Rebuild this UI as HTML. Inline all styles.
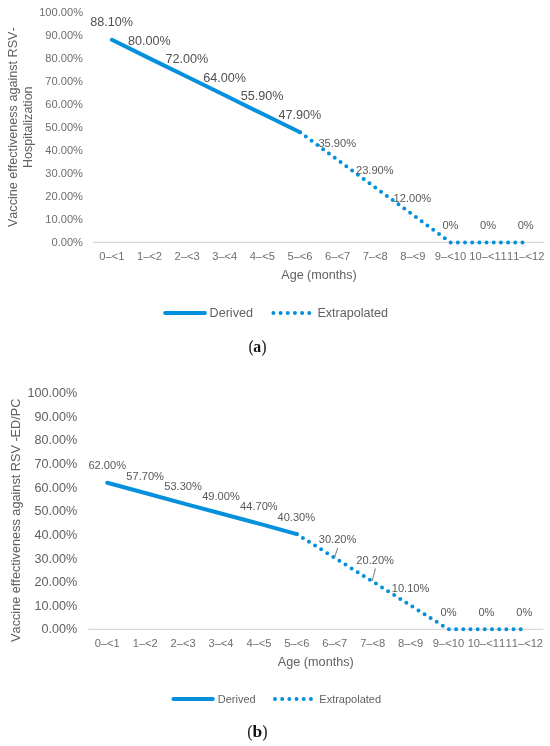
<!DOCTYPE html>
<html><head><meta charset="utf-8"><title>Figure</title>
<style>
html,body{margin:0;padding:0;background:#fff;}
svg{display:block;font-family:"Liberation Sans","DejaVu Sans",sans-serif;font-kerning:none;}
</style></head>
<body>
<svg width="550" height="746" viewBox="0 0 550 746">
<rect width="550" height="746" fill="#ffffff"/>
<g id="chart-a">
<text x="83" y="246.40" font-size="11.1" fill="#6e6e6e" text-anchor="end">0.00%</text>
<text x="83" y="223.40" font-size="11.1" fill="#6e6e6e" text-anchor="end">10.00%</text>
<text x="83" y="200.40" font-size="11.1" fill="#6e6e6e" text-anchor="end">20.00%</text>
<text x="83" y="177.40" font-size="11.1" fill="#6e6e6e" text-anchor="end">30.00%</text>
<text x="83" y="154.40" font-size="11.1" fill="#6e6e6e" text-anchor="end">40.00%</text>
<text x="83" y="131.40" font-size="11.1" fill="#6e6e6e" text-anchor="end">50.00%</text>
<text x="83" y="108.40" font-size="11.1" fill="#6e6e6e" text-anchor="end">60.00%</text>
<text x="83" y="85.40" font-size="11.1" fill="#6e6e6e" text-anchor="end">70.00%</text>
<text x="83" y="62.40" font-size="11.1" fill="#6e6e6e" text-anchor="end">80.00%</text>
<text x="83" y="39.40" font-size="11.1" fill="#6e6e6e" text-anchor="end">90.00%</text>
<text x="83" y="16.40" font-size="11.1" fill="#6e6e6e" text-anchor="end">100.00%</text>
<line x1="93.1" y1="242.4" x2="544.5" y2="242.4" stroke="#d9d9d9" stroke-width="1.2"/>
<text x="111.91" y="259.7" font-size="11.15" fill="#6e6e6e" text-anchor="middle">0–&lt;1</text>
<text x="149.52" y="259.7" font-size="11.15" fill="#6e6e6e" text-anchor="middle">1–&lt;2</text>
<text x="187.14" y="259.7" font-size="11.15" fill="#6e6e6e" text-anchor="middle">2–&lt;3</text>
<text x="224.76" y="259.7" font-size="11.15" fill="#6e6e6e" text-anchor="middle">3–&lt;4</text>
<text x="262.38" y="259.7" font-size="11.15" fill="#6e6e6e" text-anchor="middle">4–&lt;5</text>
<text x="299.99" y="259.7" font-size="11.15" fill="#6e6e6e" text-anchor="middle">5–&lt;6</text>
<text x="337.61" y="259.7" font-size="11.15" fill="#6e6e6e" text-anchor="middle">6–&lt;7</text>
<text x="375.23" y="259.7" font-size="11.15" fill="#6e6e6e" text-anchor="middle">7–&lt;8</text>
<text x="412.84" y="259.7" font-size="11.15" fill="#6e6e6e" text-anchor="middle">8–&lt;9</text>
<text x="450.46" y="259.7" font-size="11.15" fill="#6e6e6e" text-anchor="middle">9–&lt;10</text>
<text x="488.08" y="259.7" font-size="11.15" fill="#6e6e6e" text-anchor="middle">10–&lt;11</text>
<text x="525.69" y="259.7" font-size="11.15" fill="#6e6e6e" text-anchor="middle">11–&lt;12</text>
<path d="M299.99 132.23 L337.61 159.83 L375.23 187.43 L412.84 214.80 L450.46 242.40 L488.08 242.40 L525.69 242.40" fill="none" stroke="#0590dc" stroke-width="4.0" stroke-linecap="round" stroke-linejoin="round" stroke-dasharray="0 7.18"/>
<path d="M111.91 39.77 L149.52 58.40 L187.14 76.80 L224.76 95.20 L262.38 113.83 L299.99 132.23" fill="none" stroke="#0590dc" stroke-width="4.0" stroke-linecap="round" stroke-linejoin="round"/>
<text x="111.71" y="26.31" font-size="12.6" fill="#505050" text-anchor="middle">88.10%</text>
<text x="149.32" y="44.94" font-size="12.6" fill="#505050" text-anchor="middle">80.00%</text>
<text x="186.94" y="63.34" font-size="12.6" fill="#505050" text-anchor="middle">72.00%</text>
<text x="224.56" y="81.74" font-size="12.6" fill="#505050" text-anchor="middle">64.00%</text>
<text x="262.18" y="100.37" font-size="12.6" fill="#505050" text-anchor="middle">55.90%</text>
<text x="299.79" y="118.77" font-size="12.6" fill="#505050" text-anchor="middle">47.90%</text>
<text x="337.21" y="146.63" font-size="11.1" fill="#585858" text-anchor="middle">35.90%</text>
<text x="374.83" y="174.23" font-size="11.1" fill="#585858" text-anchor="middle">23.90%</text>
<text x="412.44" y="201.60" font-size="11.1" fill="#585858" text-anchor="middle">12.00%</text>
<text x="450.46" y="229.40" font-size="11.1" fill="#585858" text-anchor="middle">0%</text>
<text x="488.08" y="229.40" font-size="11.1" fill="#585858" text-anchor="middle">0%</text>
<text x="525.69" y="229.40" font-size="11.1" fill="#585858" text-anchor="middle">0%</text>
<text transform="translate(17 127.2) rotate(-90)" font-size="12.62" fill="#616161" text-anchor="middle">Vaccine effectiveness against RSV-</text>
<text transform="translate(32.4 127.2) rotate(-90)" font-size="12.55" fill="#616161" text-anchor="middle">Hospitalization</text>
<text x="319" y="278.6" font-size="12.58" fill="#616161" text-anchor="middle">Age (months)</text>
<line x1="165.1" y1="312.9" x2="204.9" y2="312.9" stroke="#0590dc" stroke-width="4.0" stroke-linecap="round"/>
<text x="209.6" y="317.43" font-size="12.58" fill="#616161">Derived</text>
<line x1="273.4" y1="312.9" x2="311" y2="312.9" stroke="#0590dc" stroke-width="4.0" stroke-linecap="round" stroke-dasharray="0 7.18"/>
<text x="317.4" y="317.43" font-size="12.58" fill="#616161">Extrapolated</text>
<g fill="#111" font-family="'Liberation Serif', 'DejaVu Serif', serif">
<text transform="translate(248.7 351.8) scale(0.86 1)" font-size="16.0" stroke="#111" stroke-width="0.25">(</text>
<text transform="translate(253.2 351.8) scale(1.0 1)" font-size="15.8" font-weight="bold">a</text>
<text transform="translate(261.8 351.8) scale(0.86 1)" font-size="16.0" stroke="#111" stroke-width="0.25">)</text>
</g>
</g>
<g id="chart-b">
<text x="77.2" y="633.49" font-size="12.6" fill="#616161" text-anchor="end">0.00%</text>
<text x="77.2" y="609.86" font-size="12.6" fill="#616161" text-anchor="end">10.00%</text>
<text x="77.2" y="586.23" font-size="12.6" fill="#616161" text-anchor="end">20.00%</text>
<text x="77.2" y="562.60" font-size="12.6" fill="#616161" text-anchor="end">30.00%</text>
<text x="77.2" y="538.97" font-size="12.6" fill="#616161" text-anchor="end">40.00%</text>
<text x="77.2" y="515.34" font-size="12.6" fill="#616161" text-anchor="end">50.00%</text>
<text x="77.2" y="491.71" font-size="12.6" fill="#616161" text-anchor="end">60.00%</text>
<text x="77.2" y="468.08" font-size="12.6" fill="#616161" text-anchor="end">70.00%</text>
<text x="77.2" y="444.45" font-size="12.6" fill="#616161" text-anchor="end">80.00%</text>
<text x="77.2" y="420.82" font-size="12.6" fill="#616161" text-anchor="end">90.00%</text>
<text x="77.2" y="397.19" font-size="12.6" fill="#616161" text-anchor="end">100.00%</text>
<line x1="88.3" y1="629.3" x2="543.3" y2="629.3" stroke="#d9d9d9" stroke-width="1.2"/>
<text x="107.26" y="646.6" font-size="11.15" fill="#6e6e6e" text-anchor="middle">0–&lt;1</text>
<text x="145.18" y="646.6" font-size="11.15" fill="#6e6e6e" text-anchor="middle">1–&lt;2</text>
<text x="183.09" y="646.6" font-size="11.15" fill="#6e6e6e" text-anchor="middle">2–&lt;3</text>
<text x="221.01" y="646.6" font-size="11.15" fill="#6e6e6e" text-anchor="middle">3–&lt;4</text>
<text x="258.93" y="646.6" font-size="11.15" fill="#6e6e6e" text-anchor="middle">4–&lt;5</text>
<text x="296.84" y="646.6" font-size="11.15" fill="#6e6e6e" text-anchor="middle">5–&lt;6</text>
<text x="334.76" y="646.6" font-size="11.15" fill="#6e6e6e" text-anchor="middle">6–&lt;7</text>
<text x="372.68" y="646.6" font-size="11.15" fill="#6e6e6e" text-anchor="middle">7–&lt;8</text>
<text x="410.59" y="646.6" font-size="11.15" fill="#6e6e6e" text-anchor="middle">8–&lt;9</text>
<text x="448.51" y="646.6" font-size="11.15" fill="#6e6e6e" text-anchor="middle">9–&lt;10</text>
<text x="486.43" y="646.6" font-size="11.15" fill="#6e6e6e" text-anchor="middle">10–&lt;11</text>
<text x="524.34" y="646.6" font-size="11.15" fill="#6e6e6e" text-anchor="middle">11–&lt;12</text>
<path d="M296.84 534.07 L334.76 557.94 L372.68 581.57 L410.59 605.43 L448.51 629.30 L486.43 629.30 L524.34 629.30" fill="none" stroke="#0590dc" stroke-width="4.0" stroke-linecap="round" stroke-linejoin="round" stroke-dasharray="0 7.18"/>
<path d="M107.26 482.79 L145.18 492.95 L183.09 503.35 L221.01 513.51 L258.93 523.67 L296.84 534.07" fill="none" stroke="#0590dc" stroke-width="4.0" stroke-linecap="round" stroke-linejoin="round"/>
<text x="107.26" y="469.49" font-size="11.1" fill="#585858" text-anchor="middle">62.00%</text>
<text x="145.18" y="479.65" font-size="11.1" fill="#585858" text-anchor="middle">57.70%</text>
<text x="183.09" y="490.05" font-size="11.1" fill="#585858" text-anchor="middle">53.30%</text>
<text x="221.01" y="500.21" font-size="11.1" fill="#585858" text-anchor="middle">49.00%</text>
<text x="258.93" y="510.37" font-size="11.1" fill="#585858" text-anchor="middle">44.70%</text>
<text x="296.34" y="520.57" font-size="11.1" fill="#585858" text-anchor="middle">40.30%</text>
<text x="337.56" y="542.93" font-size="11.1" fill="#585858" text-anchor="middle">30.20%</text>
<text x="375.18" y="564.16" font-size="11.1" fill="#585858" text-anchor="middle">20.20%</text>
<text x="410.59" y="592.43" font-size="11.1" fill="#585858" text-anchor="middle">10.10%</text>
<text x="448.51" y="616.30" font-size="11.1" fill="#585858" text-anchor="middle">0%</text>
<text x="486.43" y="616.30" font-size="11.1" fill="#585858" text-anchor="middle">0%</text>
<text x="524.34" y="616.30" font-size="11.1" fill="#585858" text-anchor="middle">0%</text>
<line x1="337.7" y1="548.0" x2="334.6" y2="557.5" stroke="#8a8a8a" stroke-width="1.1"/>
<line x1="375.4" y1="568.5" x2="372.3" y2="580.8" stroke="#8a8a8a" stroke-width="1.1"/>
<text transform="translate(19.8 520.25) rotate(-90)" font-size="12.7" fill="#616161" text-anchor="middle">Vaccine effectiveness against RSV -ED/PC</text>
<text x="315.8" y="666" font-size="12.65" fill="#616161" text-anchor="middle">Age (months)</text>
<line x1="173.4" y1="699" x2="212.8" y2="699" stroke="#0590dc" stroke-width="4.0" stroke-linecap="round"/>
<text x="217.8" y="702.96" font-size="11.0" fill="#616161">Derived</text>
<line x1="275.0" y1="699" x2="312" y2="699" stroke="#0590dc" stroke-width="4.0" stroke-linecap="round" stroke-dasharray="0 7.18"/>
<text x="319.3" y="702.96" font-size="11.0" fill="#616161">Extrapolated</text>
<g fill="#111" font-family="'Liberation Serif', 'DejaVu Serif', serif">
<text transform="translate(247.6 737.1) scale(0.86 1)" font-size="16.0" stroke="#111" stroke-width="0.25">(</text>
<text transform="translate(252.4 737.1) scale(1.09 1)" font-size="16.0" font-weight="bold">b</text>
<text transform="translate(262.7 737.1) scale(0.86 1)" font-size="16.0" stroke="#111" stroke-width="0.25">)</text>
</g>
</g>
</svg>
</body></html>
